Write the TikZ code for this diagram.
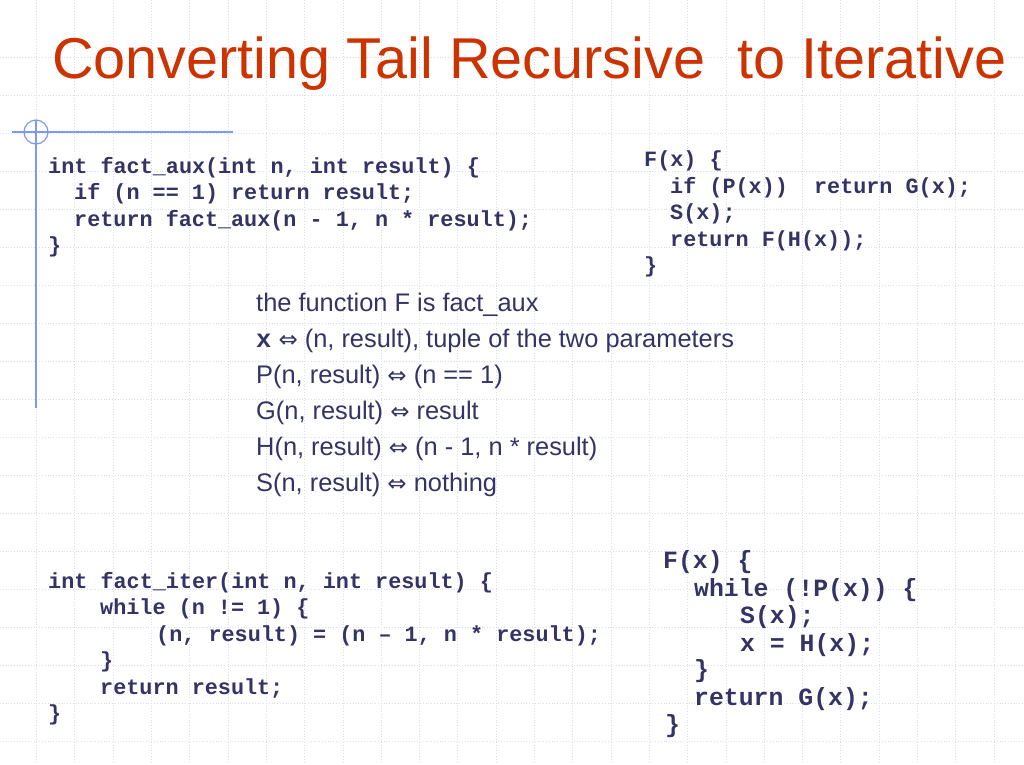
\documentclass[tikz,border=0pt]{standalone}
\usepackage{fontspec}
\setmainfont{Liberation Sans}
\setmonofont{Liberation Mono}
\newfontfamily\djv{DejaVu Sans}
\definecolor{ink}{HTML}{333366}
\definecolor{ttl}{HTML}{CC3300}
\definecolor{grd}{HTML}{D6DEF4}
\definecolor{deco}{HTML}{8099F0}
\tikzset{
  code/.style={anchor=base west,inner sep=0,text=ink,font=\fontsize{21.8}{26}\selectfont\ttfamily\bfseries},
  bigcode/.style={anchor=base west,inner sep=0,text=ink,font=\fontsize{24.8}{28}\selectfont\ttfamily\bfseries},
  body/.style={anchor=base west,inner sep=0,text=ink,font=\fontsize{25.4}{30}\selectfont},
}
\newcommand{\eqvsym}{{\djv\fontsize{23}{24}\selectfont ⇔}}
\begin{document}
\begin{tikzpicture}[x=1pt,y=-1pt]
\useasboundingbox (0,0) rectangle (1024,764);
\fill[white] (0,0) rectangle (1024,764);
\foreach \i in {0,...,26} \draw[grd,dotted,line width=0.8] (36.5+38.3*\i,0) -- (36.5+38.3*\i,764);
\foreach \j in {-2,...,17} \draw[grd,dotted,line width=0.8] (0,133+38*\j) -- (1024,133+38*\j);
\draw[deco,line width=1.2] (12,132) -- (233,132);
\draw[deco,line width=1.2] (36,120) -- (36,408);
\draw[deco,line width=1.2] (36,132) circle (12);
\node[anchor=base west,inner sep=0,text=ttl,font=\fontsize{57.6}{62}\selectfont] (title) at (52,78) {Converting Tail Recursive\ \ to Iterative};
% top left
\node[code] (a1) at (48,173) {int fact\_aux(int n, int result) \{};
\node[code] (a2) at (74,199) {if (n == 1) return result;};
\node[code] (a3) at (74,226) {return fact\_aux(n - 1, n * result);};
\node[code] (a4) at (48,252) {\}};
% top right
\node[code] (b1) at (644,166) {F(x) \{};
\node[code] (b2) at (670,193) {if (P(x))\ \ return G(x);};
\node[code] (b3) at (670,219) {S(x);};
\node[code] (b4) at (670,246) {return F(H(x));};
\node[code] (b5) at (644,272) {\}};
% body
\node[body] (c1) at (256,311) {the function F is fact\_aux};
\node[body] (c2) at (256,347) {{\ttfamily\bfseries x} \eqvsym{} (n, result), tuple of the two parameters};
\node[body] (c3) at (256,383) {P(n, result) \eqvsym{} (n == 1)};
\node[body] (c4) at (256,419) {G(n, result) \eqvsym{} result};
\node[body] (c5) at (256,455) {H(n, result) \eqvsym{} (n - 1, n * result)};
\node[body] (c6) at (256,491) {S(n, result) \eqvsym{} nothing};
% bottom left
\node[code] (d1) at (48,588) {int fact\_iter(int n, int result) \{};
\node[code] (d2) at (100,614) {while (n != 1) \{};
\node[code] (d3) at (156,641) {(n, result) = (n – 1, n * result);};
\node[code] (d4) at (100,667) {\}};
\node[code] (d5) at (100,694) {return result;};
\node[code] (d6) at (48,720) {\}};
% bottom right
\node[bigcode] (e1) at (663,568) {F(x) \{};
\node[bigcode] (e2) at (694,596) {while (!P(x)) \{};
\node[bigcode] (e3) at (740,623) {S(x);};
\node[bigcode] (e4) at (740,651) {x = H(x);};
\node[bigcode] (e5) at (694,677) {\}};
\node[bigcode] (e6) at (694,705) {return G(x);};
\node[bigcode] (e7) at (665,732) {\}};
\end{tikzpicture}
\end{document}
